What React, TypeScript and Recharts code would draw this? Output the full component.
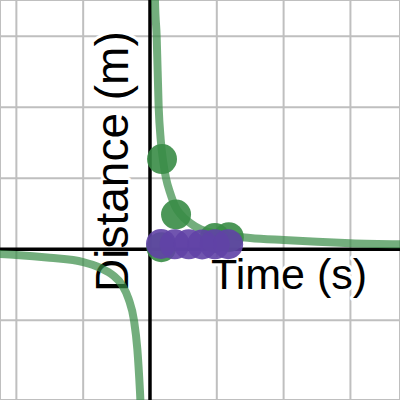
import {
  ComposedChart,
  XAxis,
  YAxis,
  CartesianGrid,
  ReferenceLine,
  Line,
  Scatter,
  Customized,
} from "recharts";

// grid ticks (one grid cell = one unit)
const xTicks = [-2, -1, 0, 1, 2, 3];
const yTicks = [-2, -1, 0, 1, 2, 3];

// fitted curve, right branch
const rightX = [0.065, 0.075, 0.1, 0.13, 0.16, 0.195, 0.24, 0.3, 0.38, 0.45, 0.6, 0.76, 1.0, 1.5, 2.0, 2.5, 3.0, 3.8];
const rightY = [4.0, 3.5, 3.0, 2.0, 1.55, 1.25, 1.0, 0.8, 0.6, 0.5, 0.37, 0.28, 0.22, 0.16, 0.13, 0.105, 0.085, 0.07];

// fitted curve, left branch
const leftX = [-2.3, -2.0, -1.5, -1.0, -0.75, -0.55, -0.42, -0.32, -0.24, -0.19, -0.15, -0.12];
const leftY = [-0.065, -0.08, -0.12, -0.18, -0.26, -0.37, -0.5, -0.7, -1.0, -1.4, -2.0, -2.6];

// measured distance points
const distTime = [0.17, 0.18, 0.39, 0.97, 1.18];
const distValue = [0.03, 1.27, 0.49, 0.16, 0.17];

// second data set, sitting on the time axis
const purpleTime = [0.165, 0.37, 0.58, 0.78, 0.97, 1.17];
const purpleValue = [0.075, 0.07, 0.07, 0.068, 0.07, 0.072];

const zip = (xs: number[], ys: number[]) => xs.map((x, i) => ({ x, y: ys[i] }));

const rightBranch = zip(rightX, rightY);
const leftBranch = zip(leftX, leftY);
const greenPoints = zip(distTime, distValue);
const purplePoints = zip(purpleTime, purpleValue);

const GREEN = "#388c46";
const PURPLE = "#6042a6";

const dot = (color: string) => (props: any) => (
  <circle cx={props.cx} cy={props.cy} r={15} fill={color} fillOpacity={0.9} />
);

const labelStyle = {
  fontFamily: "Liberation Sans, Arial, sans-serif",
  fill: "#000",
  stroke: "#fff",
  strokeWidth: 6,
  strokeLinejoin: "round" as const,
  paintOrder: "stroke" as const,
};

function AxisTitles() {
  return (
    <g>
      <text x={211} y={289} fontSize={43} style={labelStyle}>
        Time (s)
      </text>
      <text x={128} y={292} fontSize={46} transform="rotate(-90 128 292)" style={labelStyle}>
        Distance (m)
      </text>
    </g>
  );
}

export default function App() {
  return (
    <div style={{ position: "absolute", left: 0, top: 0, width: 400, height: 400, background: "#fff" }}>
      <ComposedChart width={400} height={400} margin={{ top: 0, right: 0, bottom: 0, left: 0 }}>
        <XAxis type="number" dataKey="x" domain={[-2.245, 3.742]} ticks={xTicks} allowDataOverflow hide />
        <YAxis type="number" dataKey="y" domain={[-2.123, 3.511]} ticks={yTicks} allowDataOverflow hide />
        <CartesianGrid stroke="#bfbfbf" strokeWidth={2} />
        <ReferenceLine x={0} stroke="#000" strokeWidth={3.5} />
        <ReferenceLine y={0} stroke="#000" strokeWidth={3.5} />
        <Customized component={AxisTitles} />
        <Line
          data={leftBranch}
          dataKey="y"
          type="monotone"
          stroke={GREEN}
          strokeOpacity={0.7}
          strokeWidth={8}
          dot={false}
          activeDot={false}
          isAnimationActive={false}
        />
        <Line
          data={rightBranch}
          dataKey="y"
          type="monotone"
          stroke={GREEN}
          strokeOpacity={0.7}
          strokeWidth={8}
          dot={false}
          activeDot={false}
          isAnimationActive={false}
        />
        <Scatter data={greenPoints} shape={dot(GREEN)} isAnimationActive={false} />
        <Scatter data={purplePoints} shape={dot(PURPLE)} isAnimationActive={false} />
      </ComposedChart>
    </div>
  );
}
